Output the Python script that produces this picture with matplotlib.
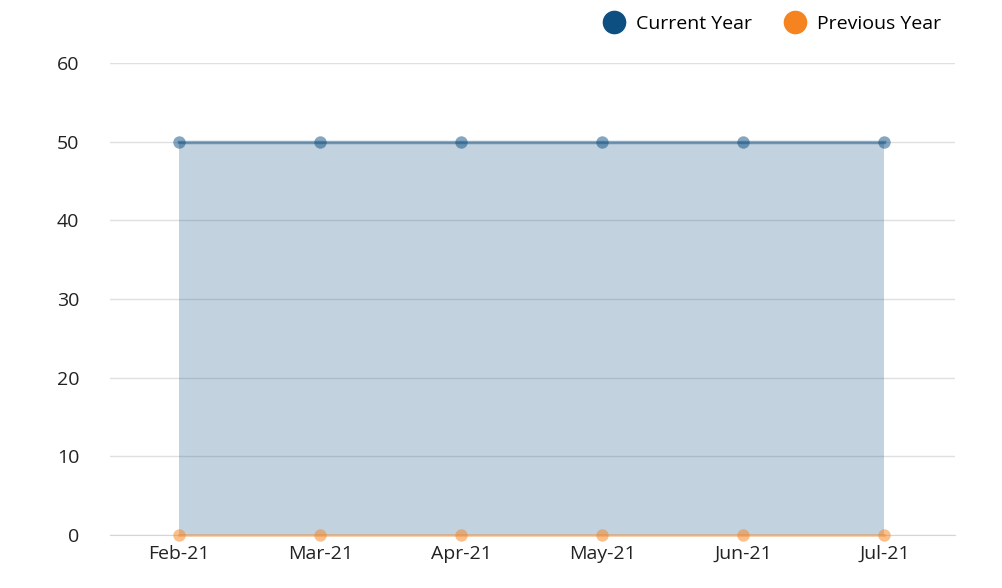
import matplotlib.pyplot as plt
import numpy as np
from matplotlib.lines import Line2D

plt.rcParams['font.family'] = ['Open Sans', 'DejaVu Sans']

months = ['Feb-21', 'Mar-21', 'Apr-21', 'May-21', 'Jun-21', 'Jul-21']
current_year = [50, 50, 50, 50, 50, 50]
previous_year = [0, 0, 0, 0, 0, 0]

blue = '#0e4f82'
orange = '#f5831f'

fig = plt.figure(figsize=(10.02, 5.88), dpi=100)
ax = fig.add_axes([0.1098, 0.090, 0.8432, 0.803])
x = np.arange(len(months))

ax.fill_between(x, current_year, color=blue, alpha=0.25, linewidth=0, zorder=2)
ax.plot(x, current_year, color=blue, alpha=0.45, linewidth=2.5, zorder=3)
ax.scatter(x, current_year, s=80, color=blue, alpha=0.5, linewidths=0, zorder=4)
ax.plot(x, previous_year, color=orange, alpha=0.4, linewidth=2, zorder=3, clip_on=False)
ax.scatter(x, previous_year, s=80, color=orange, alpha=0.5, linewidths=0, zorder=4, clip_on=False)

ax.set_xlim(-0.49, 5.5)
ax.set_ylim(0, 60)
ax.set_yticks(range(0, 61, 10))
ax.set_xticks(x)
ax.set_xticklabels(months)
ax.grid(axis='y', color='#e0e0e0', linewidth=1, zorder=0)
ax.set_axisbelow(True)
for s in ['top', 'right', 'left']:
    ax.spines[s].set_visible(False)
ax.spines['bottom'].set_color('#ccd6eb')
ax.tick_params(axis='both', length=0, labelsize=14, colors='#222222', pad=7)
ax.tick_params(axis='y', pad=22)

handles = [Line2D([], [], marker='o', linestyle='', markersize=16, color=blue, label='Current Year'),
           Line2D([], [], marker='o', linestyle='', markersize=16, color=orange, label='Previous Year')]
fig.legend(handles=handles, loc='upper right', bbox_to_anchor=(0.957, 1.005), ncol=2, frameon=False,
           fontsize=14, handletextpad=0.15, columnspacing=1.2)

fig.savefig('out.png', dpi=100)
